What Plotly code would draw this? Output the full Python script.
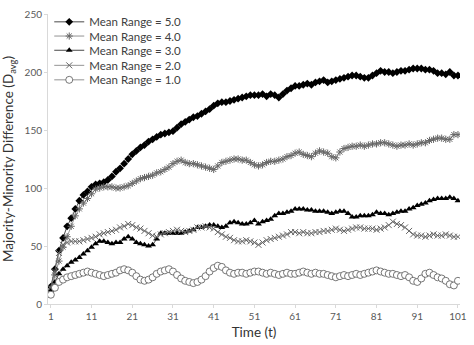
import plotly.graph_objects as go

time_steps = list(range(1, 102))

series_names = ["Mean Range = 5.0", "Mean Range = 4.0", "Mean Range = 3.0",
                "Mean Range = 2.0", "Mean Range = 1.0"]

range_5 = [15, 30, 46, 57, 67, 74, 82, 89, 94, 97, 101, 103, 104, 105, 107, 110, 114, 117, 121, 125,
           129, 132, 135, 137, 140, 142, 144, 146, 147, 148, 149, 152, 155, 157, 159, 161, 162, 164, 166, 168,
           171, 173, 174, 174, 175, 176, 177, 178, 179, 180, 180, 180, 181, 179, 181, 180, 178, 181, 184, 186,
           188, 188, 189, 190, 189, 191, 192, 193, 191, 192, 193, 194, 195, 196, 197, 197, 196, 195, 195, 197,
           199, 201, 200, 200, 199, 200, 201, 201, 202, 203, 203, 203, 202, 202, 201, 199, 199, 198, 200, 197,
           197]
range_4 = [13, 25, 37, 49, 58, 67, 76, 82, 87, 91, 95, 99, 100, 101, 101, 101, 100, 100, 101, 102,
           104, 106, 108, 109, 110, 111, 113, 114, 116, 118, 121, 123, 124, 122, 121, 121, 120, 119, 118, 117,
           116, 119, 122, 123, 124, 125, 125, 124, 124, 122, 120, 119, 120, 122, 123, 123, 124, 125, 127, 128,
           130, 131, 129, 128, 127, 130, 132, 131, 130, 127, 126, 131, 134, 135, 136, 136, 137, 136, 137, 138,
           138, 139, 139, 138, 137, 136, 137, 137, 138, 137, 138, 139, 139, 141, 142, 143, 143, 142, 142, 146,
           146]
range_3 = [12, 19, 26, 30, 33, 36, 38, 40, 43, 46, 49, 52, 54, 54, 53, 52, 53, 53, 56, 58,
           56, 53, 52, 51, 50, 51, 56, 61, 61, 61, 61, 61, 61, 62, 63, 64, 66, 66, 67, 68,
           68, 67, 66, 67, 70, 71, 70, 69, 69, 70, 72, 69, 71, 72, 73, 76, 78, 78, 79, 80,
           82, 82, 82, 81, 81, 80, 80, 80, 79, 78, 79, 80, 80, 78, 75, 75, 76, 76, 76, 77,
           79, 78, 78, 77, 78, 79, 80, 80, 82, 83, 85, 86, 87, 89, 90, 91, 91, 91, 92, 91,
           89]
range_2 = [14, 28, 44, 51, 53, 54, 54, 54, 55, 56, 57, 58, 60, 61, 62, 63, 64, 66, 67, 69,
           68, 66, 65, 63, 61, 59, 58, 60, 61, 62, 63, 64, 63, 62, 63, 64, 66, 66, 67, 66,
           65, 62, 60, 58, 57, 55, 54, 54, 55, 54, 53, 51, 53, 55, 56, 57, 58, 59, 60, 62,
           62, 61, 62, 61, 61, 62, 62, 63, 63, 64, 65, 64, 63, 64, 65, 66, 66, 65, 65, 65,
           64, 65, 66, 68, 71, 69, 68, 66, 63, 60, 59, 59, 58, 59, 60, 59, 59, 60, 59, 58,
           58]
range_1 = [8, 14, 19, 21, 23, 24, 25, 26, 27, 28, 27, 26, 25, 24, 25, 26, 27, 29, 30, 29,
           27, 24, 21, 20, 21, 23, 26, 28, 29, 30, 28, 25, 22, 20, 19, 18, 19, 21, 24, 28,
           31, 33, 32, 29, 27, 26, 27, 27, 26, 27, 28, 28, 27, 26, 27, 26, 25, 26, 27, 26,
           26, 27, 28, 27, 26, 27, 26, 26, 25, 24, 23, 24, 25, 24, 25, 26, 25, 26, 27, 28,
           29, 28, 27, 26, 26, 25, 24, 25, 23, 20, 19, 22, 26, 27, 25, 23, 22, 20, 17, 16,
           20]

x_ticks = [1, 11, 21, 31, 41, 51, 61, 71, 81, 91, 101]
y_ticks = [0, 50, 100, 150, 200, 250]

all_values = [range_5, range_4, range_3, range_2, range_1]
styles = [
    dict(symbol="diamond", size=6, color="#000000", line=dict(color="#000000", width=0)),
    dict(symbol="asterisk-open", size=6, color="#666666", line=dict(color="#666666", width=1)),
    dict(symbol="triangle-up", size=6, color="#000000", line=dict(color="#000000", width=0)),
    dict(symbol="x-thin-open", size=6, color="#666666", line=dict(color="#666666", width=1)),
    dict(symbol="circle", size=7, color="#ffffff", line=dict(color="#555555", width=0.8)),
]
line_colors = ["#1a1a1a", "#777777", "#1a1a1a", "#777777", "#777777"]
legend_ids = ["legend", "legend2", "legend3", "legend4", "legend5"]
legend_y = [0.973, 0.924, 0.875, 0.823, 0.773]

fig = go.Figure()
for name, vals, st, lc, lid in zip(series_names, all_values, styles, line_colors, legend_ids):
    fig.add_trace(go.Scatter(
        x=time_steps, y=vals, mode="lines+markers", name=name,
        line=dict(color=lc, width=0.8),
        marker=st, legend=lid,
    ))

legend_common = dict(x=0.003, xanchor="left", yanchor="middle", bgcolor="rgba(0,0,0,0)",
                     font=dict(family="Lato", size=11.5, color="#404040"),
                     itemwidth=30, borderwidth=0)
layout_legends = {}
for lid, ly in zip(legend_ids, legend_y):
    layout_legends[lid] = dict(legend_common, y=ly)

fig.update_layout(
    width=474, height=345,
    margin=dict(l=47, r=9, t=7, b=41),
    paper_bgcolor="white", plot_bgcolor="white",
    showlegend=True,
    font=dict(family="Lato", color="#595959"),
    xaxis=dict(range=[0.3, 101.5], tickvals=x_ticks, ticktext=[str(v) for v in x_ticks],
               showgrid=False, zeroline=False, showline=True, linecolor="#d9d9d9", linewidth=1,
               ticks="outside", ticklen=3, tickcolor="#d9d9d9",
               tickfont=dict(family="Lato", size=10, color="#595959"),
               title=dict(text="Time (t)", font=dict(family="Lato", size=13.5, color="#333333"), standoff=6)),
    yaxis=dict(range=[0, 250], tickvals=y_ticks, showgrid=False, zeroline=False,
               showline=True, linecolor="#d9d9d9", linewidth=1,
               ticks="outside", ticklen=3, tickcolor="#d9d9d9",
               tickfont=dict(family="Lato", size=10, color="#595959"),
               title=dict(text="Majority-Minority Difference (D<sub>avg</sub>)",
                          font=dict(family="Lato", size=13.5, color="#333333"), standoff=8)),
    **layout_legends,
)

fig.write_html("out.html")
